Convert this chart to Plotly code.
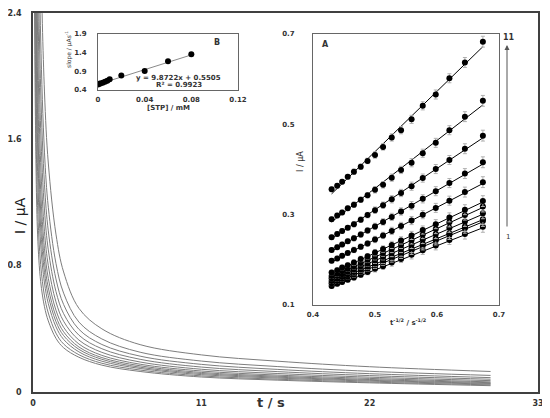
import plotly.graph_objects as go

# ---- main chronoamperograms (I vs t) ----
T_S = [0.08, 0.15, 0.3, 0.5, 0.75, 1.0, 1.5, 2.0, 3.0, 4.5, 7.0, 11.0, 16.0, 22.0, 29.9]
CURVES = [
    [3.0, 1.8, 1.0, 0.70, 0.54, 0.45, 0.34, 0.28, 0.22, 0.17, 0.13, 0.095, 0.075, 0.058, 0.04],
    [3.55, 2.16, 1.18, 0.808, 0.608, 0.50, 0.373, 0.304, 0.236, 0.182, 0.139, 0.102, 0.081, 0.063, 0.045],
    [4.21, 2.592, 1.396, 0.937, 0.690, 0.56, 0.413, 0.333, 0.254, 0.195, 0.149, 0.110, 0.088, 0.069, 0.050],
    [4.76, 2.952, 1.576, 1.044, 0.758, 0.61, 0.446, 0.357, 0.270, 0.207, 0.157, 0.117, 0.094, 0.074, 0.054],
    [5.31, 3.312, 1.756, 1.152, 0.826, 0.66, 0.479, 0.381, 0.285, 0.218, 0.166, 0.124, 0.100, 0.079, 0.059],
    [5.97, 3.744, 1.972, 1.281, 0.907, 0.72, 0.518, 0.410, 0.304, 0.232, 0.176, 0.133, 0.107, 0.086, 0.064],
    [6.85, 4.32, 2.26, 1.453, 1.016, 0.80, 0.571, 0.448, 0.329, 0.251, 0.190, 0.144, 0.117, 0.094, 0.072],
    [7.95, 5.04, 2.62, 1.668, 1.152, 0.90, 0.637, 0.496, 0.360, 0.274, 0.207, 0.158, 0.129, 0.104, 0.081],
    [9.27, 5.904, 3.052, 1.926, 1.315, 1.02, 0.716, 0.554, 0.397, 0.301, 0.227, 0.175, 0.143, 0.116, 0.091],
    [10.92, 6.984, 3.592, 2.248, 1.519, 1.17, 0.815, 0.626, 0.443, 0.336, 0.252, 0.196, 0.161, 0.131, 0.105],
    [14.0, 9.0, 4.6, 2.85, 1.9, 1.45, 1.0, 0.76, 0.53, 0.40, 0.30, 0.235, 0.195, 0.16, 0.13],
]

# ---- inset A: I vs t^-1/2 ----
TINV = [0.430, 0.439, 0.447, 0.456, 0.466, 0.477, 0.488, 0.500, 0.513,
        0.527, 0.542, 0.559, 0.577, 0.598, 0.620, 0.645, 0.674]
A_SERIES = [
    [0.142, 0.147, 0.151, 0.156, 0.161, 0.167, 0.173, 0.180, 0.186, 0.194, 0.202, 0.211, 0.221, 0.232, 0.244, 0.257, 0.273],
    [0.148, 0.153, 0.158, 0.163, 0.168, 0.175, 0.181, 0.188, 0.195, 0.203, 0.211, 0.221, 0.231, 0.243, 0.255, 0.270, 0.286],
    [0.153, 0.158, 0.162, 0.168, 0.173, 0.179, 0.185, 0.192, 0.199, 0.207, 0.216, 0.225, 0.235, 0.247, 0.259, 0.274, 0.290],
    [0.159, 0.164, 0.168, 0.174, 0.179, 0.186, 0.192, 0.199, 0.207, 0.215, 0.224, 0.234, 0.245, 0.257, 0.271, 0.285, 0.303],
    [0.164, 0.169, 0.175, 0.180, 0.186, 0.193, 0.200, 0.207, 0.215, 0.224, 0.233, 0.244, 0.256, 0.268, 0.283, 0.299, 0.318],
    [0.172, 0.177, 0.183, 0.188, 0.194, 0.202, 0.208, 0.216, 0.224, 0.233, 0.243, 0.254, 0.266, 0.279, 0.294, 0.311, 0.330],
    [0.198, 0.203, 0.209, 0.215, 0.222, 0.229, 0.236, 0.245, 0.254, 0.264, 0.275, 0.287, 0.300, 0.315, 0.331, 0.350, 0.372],
    [0.222, 0.228, 0.234, 0.241, 0.248, 0.256, 0.265, 0.274, 0.284, 0.295, 0.307, 0.320, 0.335, 0.352, 0.370, 0.391, 0.416],
    [0.250, 0.257, 0.264, 0.271, 0.279, 0.289, 0.299, 0.310, 0.321, 0.334, 0.348, 0.363, 0.381, 0.401, 0.421, 0.446, 0.475],
    [0.290, 0.298, 0.305, 0.314, 0.322, 0.333, 0.343, 0.355, 0.366, 0.382, 0.399, 0.415, 0.436, 0.459, 0.487, 0.517, 0.552],
    [0.356, 0.364, 0.373, 0.384, 0.395, 0.406, 0.419, 0.432, 0.450, 0.471, 0.487, 0.511, 0.541, 0.566, 0.602, 0.637, 0.683],
]
A_ERR = [0.005, 0.005, 0.005, 0.005, 0.006, 0.006, 0.006, 0.007, 0.007,
         0.008, 0.008, 0.009, 0.009, 0.010, 0.010, 0.011, 0.012]
A_FIT_X = [0.430, 0.674]
A_FIT_Y = [
    [0.140, 0.271], [0.146, 0.284], [0.151, 0.289], [0.157, 0.301],
    [0.162, 0.316], [0.170, 0.328], [0.195, 0.369], [0.219, 0.412],
    [0.247, 0.470], [0.284, 0.543], [0.346, 0.672],
]

# ---- inset B: slope vs [STP] ----
STP = [0, 0.001, 0.002, 0.004, 0.006, 0.008, 0.01, 0.02, 0.04, 0.06, 0.08]
SLOPE = [0.55, 0.565, 0.575, 0.595, 0.62, 0.65, 0.685, 0.79, 0.91, 1.17, 1.355]
SLOPE_ERR = [0.01, 0.01, 0.01, 0.01, 0.01, 0.01, 0.015, 0.02, 0.02, 0.03, 0.05]
B_FIT_X = [0, 0.08]
B_FIT_Y = [0.5505, 1.340]

# page body adds an 8px margin, so the figure is 8px smaller and all
# layout positions (given in window pixels) are shifted by 8
OFF = 8
W, H = 550 - OFF, 418 - OFF
FONT = "DejaVu Sans"
INK = "#333333"


def px(x):
    return (x - OFF) / W


def py(y):
    return (H - (y - OFF)) / H


fig = go.Figure()

for ys in CURVES:
    fig.add_trace(go.Scatter(
        x=T_S, y=ys, mode="lines", xaxis="x", yaxis="y",
        line=dict(color="rgb(125,125,125)", width=1, shape="spline", smoothing=1.0),
        hoverinfo="skip",
    ))

for ys, fit in zip(A_SERIES, A_FIT_Y):
    fig.add_trace(go.Scatter(
        x=A_FIT_X, y=fit, mode="lines", xaxis="x2", yaxis="y2",
        line=dict(color="black", width=1), hoverinfo="skip",
    ))
    fig.add_trace(go.Scatter(
        x=TINV, y=ys, mode="markers", xaxis="x2", yaxis="y2",
        marker=dict(color="black", size=6),
        error_y=dict(type="data", array=A_ERR, color="#b0b0b0", thickness=1, width=2),
    ))

fig.add_trace(go.Scatter(
    x=B_FIT_X, y=B_FIT_Y, mode="lines", xaxis="x3", yaxis="y3",
    line=dict(color="#8a8a8a", width=1), hoverinfo="skip",
))
fig.add_trace(go.Scatter(
    x=STP, y=SLOPE, mode="markers", xaxis="x3", yaxis="y3",
    marker=dict(color="black", size=6),
    error_y=dict(type="data", array=SLOPE_ERR, color="#b0b0b0", thickness=1, width=2),
))

tick_main = dict(family=FONT, size=8, color=INK, weight="bold")
tick_inset = dict(family=FONT, size=7, color=INK, weight="bold")
frame = dict(showline=True, mirror=True, showgrid=False, zeroline=False, ticks="",
             automargin=False)

fig.update_layout(
    width=W, height=H,
    margin=dict(l=0, r=0, t=0, b=0),
    paper_bgcolor="white", plot_bgcolor="white",
    showlegend=False,
    xaxis=dict(domain=[px(33), px(538)], range=[0, 33], tickvals=[0, 11, 22, 33],
               linecolor="#404040", linewidth=1.5, tickfont=tick_main,
               ticklabelstandoff=3, **frame),
    yaxis=dict(domain=[py(392), py(13)], range=[0, 2.4], tickvals=[0, 0.8, 1.6, 2.4],
               ticktext=["0", "0.8", "1.6", "2.4"],
               linecolor="#404040", linewidth=1.5, tickfont=tick_main,
               ticklabelstandoff=8, **frame),
    xaxis2=dict(domain=[px(313), px(499)], range=[0.4, 0.7], tickvals=[0.4, 0.5, 0.6, 0.7],
                anchor="y2", linecolor="#666666", linewidth=1, tickfont=tick_inset,
                ticklabelstandoff=3, **frame),
    yaxis2=dict(domain=[py(305), py(34)], range=[0.1, 0.7], tickvals=[0.1, 0.3, 0.5, 0.7],
                anchor="x2", linecolor="#666666", linewidth=1, tickfont=tick_inset,
                ticklabelstandoff=16, **frame),
    xaxis3=dict(domain=[px(98), px(238)], range=[0, 0.12], tickvals=[0, 0.04, 0.08, 0.12],
                ticktext=["0", "0.04", "0.08", "0.12"],
                anchor="y3", linecolor="#666666", linewidth=1, tickfont=tick_inset,
                ticklabelstandoff=3, **frame),
    yaxis3=dict(domain=[py(90), py(34)], range=[0.4, 1.9], tickvals=[0.4, 0.9, 1.4, 1.9],
                anchor="x3", linecolor="#666666", linewidth=1, tickfont=tick_inset,
                ticklabelstandoff=9, **frame),
)


def note(text, x, y, size=7, bold=True, angle=0, color=INK):
    fig.add_annotation(
        text=text, xref="paper", yref="paper", x=px(x), y=py(y),
        xanchor="center", yanchor="middle", showarrow=False, textangle=angle,
        font=dict(family=FONT, size=size, color=color, weight="bold" if bold else "normal"),
    )


note("t / s", 271, 402, size=13)
note("I / µA", 20, 216, size=14, bold=False, angle=-90, color="#222222")
note("A", 325, 45, size=8)
note("t<sup>-1/2</sup> / s<sup>-1/2</sup>", 408, 322, size=7)
note("I / µA", 300, 162, size=8, bold=False, angle=-90)
note("11", 509, 38, size=8)
note("1", 508, 237, size=7, bold=False)
note("B", 217, 43, size=8)
note("y = 9.8722x + 0.5505", 178, 78, size=7)
note("R² = 0.9923", 179, 85, size=7)
note("[STP] / mM", 168, 108, size=7)
note("slope / µAs<sup>-1</sup>", 69, 50, size=6, bold=False, angle=-90)

# arrow from series 1 up to series 11
fig.add_annotation(
    xref="paper", yref="paper", axref="pixel", ayref="pixel",
    x=px(507), y=py(45), ax=0, ay=183, text="",
    showarrow=True, arrowhead=2, arrowsize=1, arrowwidth=1, arrowcolor="#555555",
)

fig.write_html("out.html")
